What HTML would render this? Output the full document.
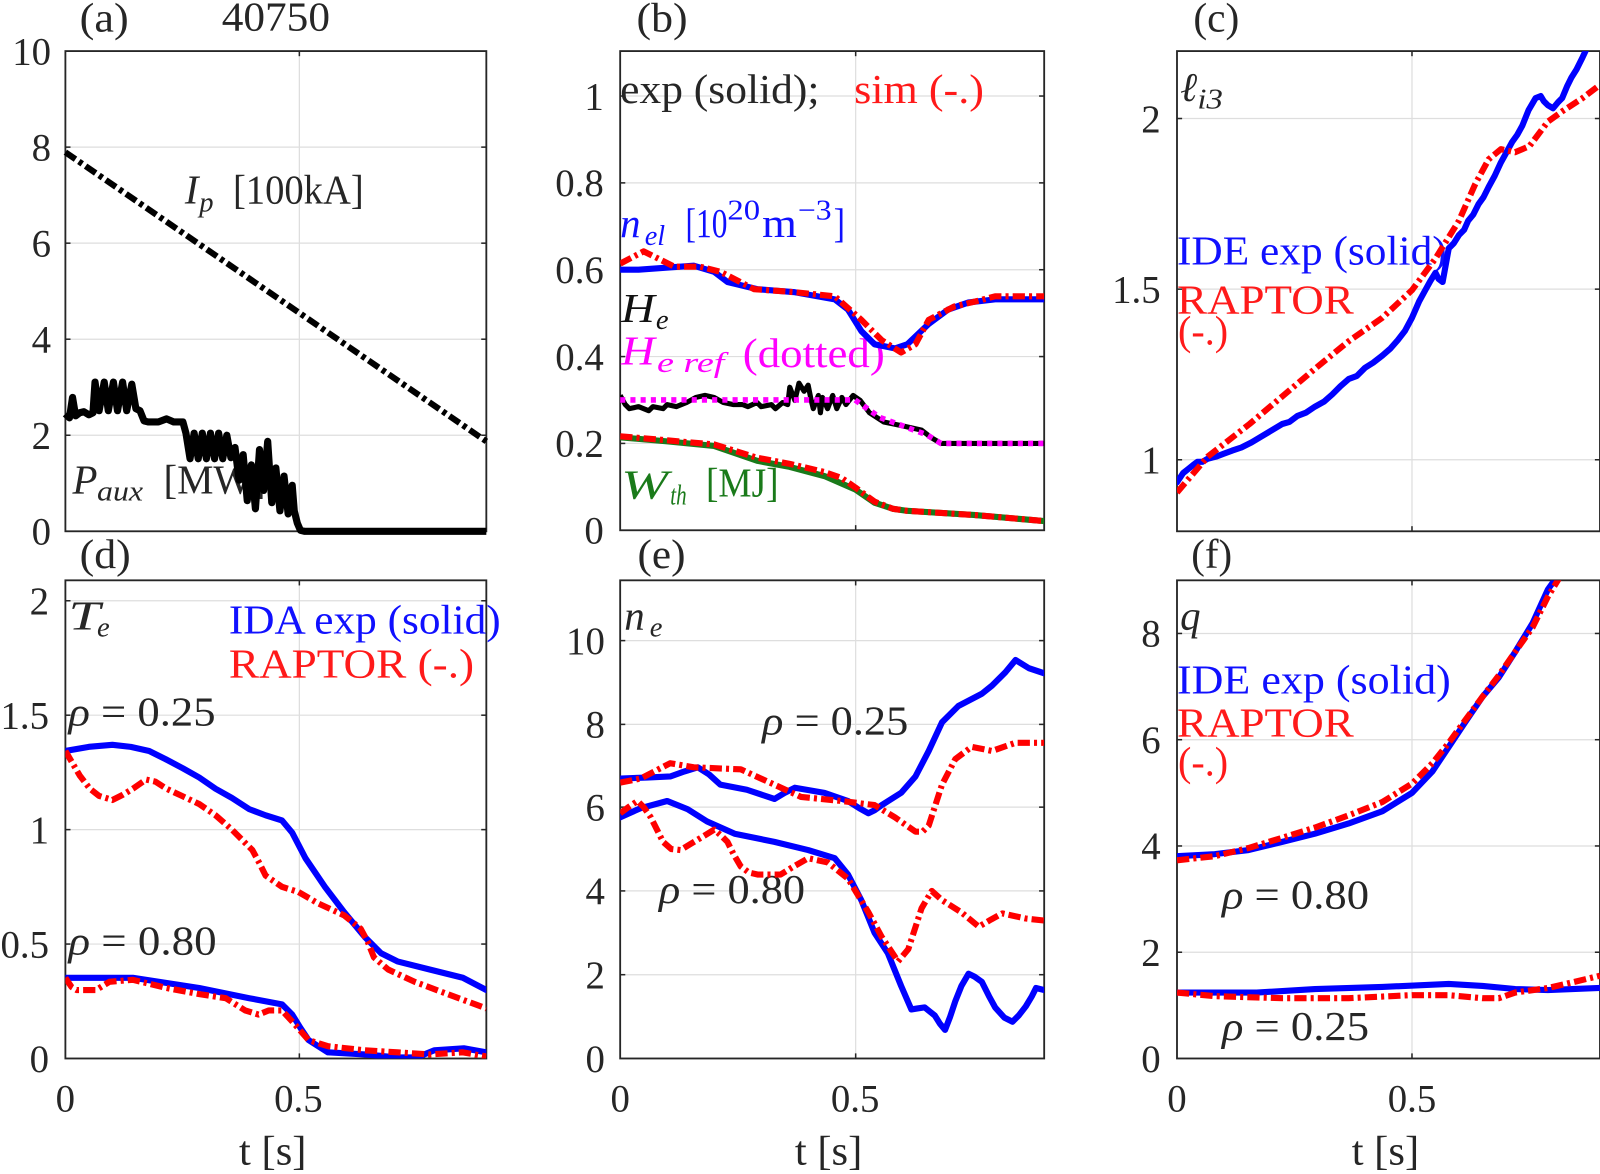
<!DOCTYPE html>
<html><head><meta charset="utf-8"><style>
html,body{margin:0;padding:0;background:#fff;}
svg{display:block;}
text{font-family:"Liberation Serif","DejaVu Serif",serif;fill:#262626;}
.tk{font-size:38px;}
.lb{font-size:40px;}
.sb{font-size:28px;}
.it{font-style:italic;}
.grid{stroke:#dedede;stroke-width:1.2;fill:none;}
.box{stroke:#262626;stroke-width:1.8;fill:none;}
.tick{stroke:#262626;stroke-width:1.5;}
.bl{stroke:#0000ff;stroke-width:6;fill:none;stroke-linejoin:round;stroke-linecap:round;}
.rd{stroke:#ff0000;stroke-width:6;fill:none;stroke-linejoin:round;stroke-dasharray:12 4 3 4;}
</style></head><body>
<svg width="1600" height="1174" viewBox="0 0 1600 1174" xmlns="http://www.w3.org/2000/svg">
<defs>
<clipPath id="cb"><rect x="607" y="50" width="415" height="470"/></clipPath>
<clipPath id="cc"><rect x="1152" y="50" width="414" height="470"/></clipPath>
<clipPath id="cd"><rect x="64" y="568" width="412" height="468"/></clipPath>
<clipPath id="ce"><rect x="607" y="568" width="415" height="468"/></clipPath>
<clipPath id="cf"><rect x="1152" y="568" width="414" height="468"/></clipPath>
</defs>
<g transform="scale(1.0217)">

<!-- ============ PANEL A ============ -->
<g class="grid">
<line x1="64" y1="144" x2="476" y2="144"/><line x1="64" y1="238" x2="476" y2="238"/>
<line x1="64" y1="332" x2="476" y2="332"/><line x1="64" y1="426" x2="476" y2="426"/>
<line x1="293" y1="50" x2="293" y2="520"/>
</g>
<rect class="box" x="64" y="50" width="412" height="470"/>
<g class="tick">
<line x1="64" y1="144" x2="69" y2="144"/><line x1="64" y1="238" x2="69" y2="238"/><line x1="64" y1="332" x2="69" y2="332"/><line x1="64" y1="426" x2="69" y2="426"/>
<line x1="476" y1="144" x2="471" y2="144"/><line x1="476" y1="238" x2="471" y2="238"/><line x1="476" y1="332" x2="471" y2="332"/><line x1="476" y1="426" x2="471" y2="426"/>
<line x1="293" y1="50" x2="293" y2="55"/><line x1="293" y1="520" x2="293" y2="515"/>
</g>
<g class="tk" text-anchor="end">
<text x="50" y="63">10</text><text x="50" y="157">8</text><text x="50" y="251">6</text>
<text x="50" y="345">4</text><text x="50" y="439">2</text><text x="50" y="533">0</text>
</g>
<text class="lb" x="78" y="31" textLength="48" lengthAdjust="spacingAndGlyphs">(a)</text>
<text class="lb" x="217" y="30" textLength="106" lengthAdjust="spacingAndGlyphs">40750</text>
<text class="lb it" x="181" y="199">I</text>
<text class="sb it" x="195" y="207">p</text>
<text class="lb" x="228" y="199" textLength="128" lengthAdjust="spacingAndGlyphs">[100kA]</text>
<text class="lb it" x="71" y="483">P</text>
<text class="sb it" x="95" y="490" textLength="45" lengthAdjust="spacingAndGlyphs">aux</text>
<text class="lb" x="160" y="483" textLength="100" lengthAdjust="spacingAndGlyphs">[MW]</text>
<polyline fill="none" stroke="#000" stroke-width="6" stroke-dasharray="12 4 4 4" points="64,149 476,432"/>
<polyline fill="none" stroke="#000" stroke-width="7" stroke-linejoin="round" points="64,405 68,409 71,389 74,407 78,404 82,403 87,406 91,404 93,374 97,402 102,374 106,402 111,374 115,402 120,374 124,402 129,376 133,400 137,402 141,412 145,413 155,413 163,410 170,413 179,413 182,424 186,449 190,424 194,449 198,424 202,449 206,424 210,449 214,424 218,449 222,426 226,448 230,438 234,470 238,445 242,490 246,455 250,498 254,440 258,480 262,432 266,492 270,458 274,500 278,466 282,503 286,475 288,500 291,512 294,519 298,520 476,520"/>

<!-- ============ PANEL B ============ -->
<g class="grid">
<line x1="607" y1="94" x2="1022" y2="94"/><line x1="607" y1="179" x2="1022" y2="179"/>
<line x1="607" y1="264" x2="1022" y2="264"/><line x1="607" y1="349" x2="1022" y2="349"/>
<line x1="607" y1="434" x2="1022" y2="434"/>
<line x1="837.5" y1="50" x2="837.5" y2="519"/>
</g>
<rect class="box" x="607" y="50" width="415" height="469"/>
<g class="tick">
<line x1="607" y1="94" x2="612" y2="94"/><line x1="607" y1="179" x2="612" y2="179"/><line x1="607" y1="264" x2="612" y2="264"/><line x1="607" y1="349" x2="612" y2="349"/><line x1="607" y1="434" x2="612" y2="434"/>
<line x1="1022" y1="94" x2="1017" y2="94"/><line x1="1022" y1="179" x2="1017" y2="179"/><line x1="1022" y1="264" x2="1017" y2="264"/><line x1="1022" y1="349" x2="1017" y2="349"/><line x1="1022" y1="434" x2="1017" y2="434"/>
<line x1="837.5" y1="50" x2="837.5" y2="55"/><line x1="837.5" y1="519" x2="837.5" y2="514"/>
</g>
<g class="tk" text-anchor="end">
<text x="591" y="107">1</text><text x="591" y="192">0.8</text><text x="591" y="277">0.6</text>
<text x="591" y="362">0.4</text><text x="591" y="447">0.2</text><text x="591" y="532">0</text>
</g>
<text class="lb" x="623" y="31" textLength="50" lengthAdjust="spacingAndGlyphs">(b)</text>
<text class="lb" x="607" y="101" textLength="195" lengthAdjust="spacingAndGlyphs">exp (solid);</text>
<text class="lb" x="836" y="101" textLength="127" lengthAdjust="spacingAndGlyphs" style="fill:#ff1a1a">sim (-.)</text>
<text class="lb it" x="607" y="232" style="fill:#1010ff">n</text>
<text class="sb it" x="631" y="240" textLength="20" lengthAdjust="spacingAndGlyphs" style="fill:#1010ff">el</text>
<text class="lb" x="671" y="232" textLength="41" lengthAdjust="spacingAndGlyphs" style="fill:#1010ff">[10</text>
<text class="sb" x="712" y="215" textLength="32" lengthAdjust="spacingAndGlyphs" style="fill:#1010ff">20</text>
<text class="lb" x="746" y="232" textLength="34" lengthAdjust="spacingAndGlyphs" style="fill:#1010ff">m</text>
<text class="sb" x="781" y="215" textLength="33" lengthAdjust="spacingAndGlyphs" style="fill:#1010ff">−3</text>
<text class="lb" x="816" y="232" textLength="11" lengthAdjust="spacingAndGlyphs" style="fill:#1010ff">]</text>
<text class="lb it" x="608" y="315" textLength="33" lengthAdjust="spacingAndGlyphs" style="fill:#111">H</text>
<text class="sb it" x="642" y="322" style="fill:#111">e</text>
<text class="lb it" x="608" y="357" textLength="33" lengthAdjust="spacingAndGlyphs" style="fill:#ff00ff">H</text>
<text class="sb it" x="643" y="364" textLength="66" lengthAdjust="spacingAndGlyphs" style="fill:#ff00ff">e ref</text>
<text class="lb" x="727" y="359" textLength="139" lengthAdjust="spacingAndGlyphs" style="fill:#ff00ff">(dotted)</text>
<text class="lb it" x="608" y="488" textLength="46" lengthAdjust="spacingAndGlyphs" style="fill:#1a7a1a">W</text>
<text class="sb it" x="656" y="494" textLength="16" lengthAdjust="spacingAndGlyphs" style="fill:#1a7a1a">th</text>
<text class="lb" x="691" y="486" textLength="71" lengthAdjust="spacingAndGlyphs" style="fill:#1a7a1a">[MJ]</text>
<g clip-path="url(#cb)">
<polyline class="bl" points="607,264 625,264 679,260 699,266 712,276 741,283 778,286 817,293 830,303 843,324 856,337 876,341 888,337 909,317 928,303 948,296 974,293 1022,293"/>
<polyline class="rd" points="607,258 630,246 660,261 685,261 705,266 738,283 778,286 817,290 843,313 863,333 882,345 896,337 909,313 934,300 955,295 974,290 1022,290"/>
<polyline fill="none" stroke="#000" stroke-width="5" stroke-linejoin="round" points="607,387 612,396 616,400 625,398 635,402 639,398 649,400 653,396 662,398 672,394 681,389 690,387 699,389 708,394 718,396 727,396 732,398 741,394 745,398 755,396 759,400 766,394 771,396 773,379 778,392 782,375 787,383 791,377 794,392 796,400 801,387 803,404 805,389 810,400 815,387 819,400 824,389 828,396 835,387 842,392 851,404 865,413 884,417 902,421 911,428 921,434 1022,434"/>
<polyline fill="none" stroke="#ff00ff" stroke-width="5.5" stroke-dasharray="5 5" points="607,391.5 837,391.5 861,408.5 884,417 907,425.5 921,434 1022,434"/>
<polyline fill="none" stroke="#1a7a1a" stroke-width="6" stroke-linejoin="round" points="607,428 653,432 699,436.5 741,451 773,457 807,466 837,479 856,492 874,498 888,500 953,504 1022,510"/>
<polyline class="rd" points="607,427 653,431 699,435 741,448 773,454 807,462 824,468 837,477 856,491 874,498 888,500 953,504 1022,510"/>
</g>

<!-- ============ PANEL C ============ -->
<g class="grid">
<line x1="1152" y1="116" x2="1566" y2="116"/><line x1="1152" y1="283" x2="1566" y2="283"/>
<line x1="1152" y1="450" x2="1566" y2="450"/>
<line x1="1382" y1="50" x2="1382" y2="520"/>
</g>
<rect class="box" x="1152" y="50" width="414" height="470"/>
<g class="tick">
<line x1="1152" y1="116" x2="1157" y2="116"/><line x1="1152" y1="283" x2="1157" y2="283"/><line x1="1152" y1="450" x2="1157" y2="450"/>
<line x1="1566" y1="116" x2="1561" y2="116"/><line x1="1566" y1="283" x2="1561" y2="283"/><line x1="1566" y1="450" x2="1561" y2="450"/>
<line x1="1382" y1="50" x2="1382" y2="55"/><line x1="1382" y1="520" x2="1382" y2="515"/>
</g>
<g class="tk" text-anchor="end">
<text x="1136" y="129">2</text><text x="1136" y="296">1.5</text><text x="1136" y="463">1</text>
</g>
<text class="lb" x="1168" y="31" textLength="45" lengthAdjust="spacingAndGlyphs">(c)</text>
<text class="lb it" x="1155" y="99">ℓ</text>
<text class="sb it" x="1172" y="106" textLength="25" lengthAdjust="spacingAndGlyphs">i3</text>
<text class="lb" x="1152" y="259" textLength="264" lengthAdjust="spacingAndGlyphs" style="fill:#1010ff">IDE exp (solid)</text>
<text class="lb" x="1152" y="307" textLength="173" lengthAdjust="spacingAndGlyphs" style="fill:#ff1a1a">RAPTOR</text>
<text class="lb" x="1153" y="337" textLength="49" lengthAdjust="spacingAndGlyphs" style="fill:#ff1a1a">(-.)</text>
<g clip-path="url(#cc)">
<polyline class="bl" points="1152,472 1158,463 1163,459 1168,455 1172,452 1177,452 1182,449 1190,447 1198,444 1206,441 1215,438 1225,433 1235,427 1245,421 1255,415 1262,413 1270,407 1278,404 1287,398 1296,393 1304,386 1312,378 1320,371 1328,368 1336,360 1344,355 1353,348 1361,341 1368,333 1375,324 1382,311 1389,295 1395,284 1400,275 1405,267 1408,273 1412,276 1418,243 1423,238 1428,230 1433,225 1437,216 1442,210 1447,200 1452,193 1457,183 1463,172 1469,159 1474,150 1480,139 1485,132 1490,123 1496,108 1503,96 1508,94 1511,99 1515,103 1520,106 1525,100 1529,96 1534,84 1538,76 1543,68 1549,56 1557,39"/>
<polyline class="rd" points="1152,482 1182,447 1223,415 1255,388 1287,361 1320,334 1353,311 1382,284 1405,253 1428,216 1444,180 1457,156 1469,146 1483,149 1497,143 1515,119 1529,109 1549,96 1566,83"/>
</g>

<!-- ============ PANEL D ============ -->
<g class="grid">
<line x1="64" y1="588" x2="476" y2="588"/><line x1="64" y1="700" x2="476" y2="700"/>
<line x1="64" y1="812" x2="476" y2="812"/><line x1="64" y1="924" x2="476" y2="924"/>
<line x1="293" y1="568" x2="293" y2="1036"/>
</g>
<rect class="box" x="64" y="568" width="412" height="468"/>
<g class="tick">
<line x1="64" y1="588" x2="69" y2="588"/><line x1="64" y1="700" x2="69" y2="700"/><line x1="64" y1="812" x2="69" y2="812"/><line x1="64" y1="924" x2="69" y2="924"/>
<line x1="476" y1="588" x2="471" y2="588"/><line x1="476" y1="700" x2="471" y2="700"/><line x1="476" y1="812" x2="471" y2="812"/><line x1="476" y1="924" x2="471" y2="924"/>
<line x1="293" y1="568" x2="293" y2="573"/><line x1="293" y1="1036" x2="293" y2="1031"/>
</g>
<g class="tk" text-anchor="end">
<text x="48" y="601">2</text><text x="48" y="713">1.5</text><text x="48" y="825">1</text>
<text x="48" y="937">0.5</text><text x="48" y="1049">0</text>
</g>
<g class="tk" text-anchor="middle">
<text x="64" y="1088">0</text><text x="292" y="1088">0.5</text>
</g>
<text class="lb" x="234" y="1140" textLength="66" lengthAdjust="spacingAndGlyphs">t [s]</text>
<text class="lb" x="78" y="556" textLength="50" lengthAdjust="spacingAndGlyphs">(d)</text>
<text class="lb it" x="67" y="616" textLength="31" lengthAdjust="spacingAndGlyphs">T</text>
<text class="sb it" x="95" y="623">e</text>
<text class="lb" x="224" y="620" textLength="266" lengthAdjust="spacingAndGlyphs" style="fill:#1010ff">IDA exp (solid)</text>
<text class="lb" x="224" y="663" textLength="240" lengthAdjust="spacingAndGlyphs" style="fill:#ff1a1a">RAPTOR (-.)</text>
<text class="lb" x="67" y="710" textLength="144" lengthAdjust="spacingAndGlyphs"><tspan font-style="italic">ρ</tspan> = 0.25</text>
<text class="lb" x="67" y="934" textLength="145" lengthAdjust="spacingAndGlyphs"><tspan font-style="italic">ρ</tspan> = 0.80</text>
<g clip-path="url(#cd)">
<polyline class="bl" points="64,735 87,731 110,729 128,731 146,735 162,743 179,752 195,761 211,772 227,781 244,792 260,798 276,803 286,815 299,840 318,868 337,893 357,917 373,933 389,941 421,949 453,957 476,969"/>
<polyline class="rd" points="64,735 78,759 88,772 97,779 110,783 120,778 130,772 143,763 152,765 163,772 178,779 195,787 211,798 227,812 240,825 247,832 254,845 260,857 276,868 292,873 311,884 337,896 353,909 360,922 366,937 380,949 406,961 438,973 476,987"/>
<polyline class="bl" points="64,957 130,957 195,967 244,977 276,983 286,993 294,1006 302,1018 321,1030 357,1032 389,1035 408,1035 425,1028 454,1026 476,1030"/>
<polyline class="rd" points="64,957 70,966 75,969 94,969 107,961 130,959 163,967 195,973 221,977 240,989 253,993 263,989 276,989 288,1002 302,1018 321,1024 357,1028 389,1030 421,1032 453,1030 476,1034"/>
</g>

<!-- ============ PANEL E ============ -->
<g class="grid">
<line x1="607" y1="627" x2="1022" y2="627"/><line x1="607" y1="709" x2="1022" y2="709"/>
<line x1="607" y1="790" x2="1022" y2="790"/><line x1="607" y1="872" x2="1022" y2="872"/>
<line x1="607" y1="954" x2="1022" y2="954"/>
<line x1="837.5" y1="568" x2="837.5" y2="1036"/>
</g>
<rect class="box" x="607" y="568" width="415" height="468"/>
<g class="tick">
<line x1="607" y1="627" x2="612" y2="627"/><line x1="607" y1="709" x2="612" y2="709"/><line x1="607" y1="790" x2="612" y2="790"/><line x1="607" y1="872" x2="612" y2="872"/><line x1="607" y1="954" x2="612" y2="954"/>
<line x1="1022" y1="627" x2="1017" y2="627"/><line x1="1022" y1="709" x2="1017" y2="709"/><line x1="1022" y1="790" x2="1017" y2="790"/><line x1="1022" y1="872" x2="1017" y2="872"/><line x1="1022" y1="954" x2="1017" y2="954"/>
<line x1="837.5" y1="568" x2="837.5" y2="573"/><line x1="837.5" y1="1036" x2="837.5" y2="1031"/>
</g>
<g class="tk" text-anchor="end">
<text x="592" y="640">10</text><text x="592" y="722">8</text><text x="592" y="803">6</text>
<text x="592" y="885">4</text><text x="592" y="967">2</text><text x="592" y="1049">0</text>
</g>
<g class="tk" text-anchor="middle">
<text x="607" y="1088">0</text><text x="837" y="1088">0.5</text>
</g>
<text class="lb" x="778" y="1140" textLength="66" lengthAdjust="spacingAndGlyphs">t [s]</text>
<text class="lb" x="624" y="556" textLength="47" lengthAdjust="spacingAndGlyphs">(e)</text>
<text class="lb it" x="611" y="616">n</text>
<text class="sb it" x="636" y="623">e</text>
<text class="lb" x="746" y="719" textLength="143" lengthAdjust="spacingAndGlyphs"><tspan font-style="italic">ρ</tspan> = 0.25</text>
<text class="lb" x="645" y="884" textLength="143" lengthAdjust="spacingAndGlyphs"><tspan font-style="italic">ρ</tspan> = 0.80</text>
<g clip-path="url(#ce)">
<polyline class="bl" points="607,762 633,761 656,760 670,755 683,751 694,758 705,768 731,773 758,782 768,776 778,771 807,776 830,784 841,791 850,796 856,793 863,788 882,776 896,760 909,735 922,707 938,691 961,679 971,671 984,658 994,646 1007,654 1022,659"/>
<polyline class="rd" points="607,766 627,762 656,747 679,751 725,753 758,768 784,780 824,784 856,788 876,800 896,814 903,814 909,808 922,768 935,743 951,731 971,735 994,727 1022,727"/>
<polyline class="bl" points="607,800 627,791 653,784 673,792 692,804 719,816 758,824 791,832 817,840 830,856 843,881 856,913 869,933 882,965 892,988 898,987 905,986 910,990 915,994 920,1002 925,1008 930,995 935,980 941,965 948,953 954,956 961,961 968,975 974,986 983,996 991,1000 997,994 1004,985 1010,975 1014,967 1022,969"/>
<polyline class="rd" points="607,796 615,790 624,784 630,790 637,800 643,812 649,824 657,831 666,832 676,826 686,820 699,812 706,818 712,824 718,836 725,848 733,854 742,856 764,856 777,848 791,840 810,844 830,860 850,893 863,917 879,941 889,929 902,889 912,872 922,881 941,893 958,907 970,900 981,894 1004,899 1022,901"/>
</g>

<!-- ============ PANEL F ============ -->
<g class="grid">
<line x1="1152" y1="620" x2="1566" y2="620"/><line x1="1152" y1="724" x2="1566" y2="724"/>
<line x1="1152" y1="828" x2="1566" y2="828"/><line x1="1152" y1="932" x2="1566" y2="932"/>
<line x1="1382" y1="568" x2="1382" y2="1036"/>
</g>
<rect class="box" x="1152" y="568" width="414" height="468"/>
<g class="tick">
<line x1="1152" y1="620" x2="1157" y2="620"/><line x1="1152" y1="724" x2="1157" y2="724"/><line x1="1152" y1="828" x2="1157" y2="828"/><line x1="1152" y1="932" x2="1157" y2="932"/>
<line x1="1566" y1="620" x2="1561" y2="620"/><line x1="1566" y1="724" x2="1561" y2="724"/><line x1="1566" y1="828" x2="1561" y2="828"/><line x1="1566" y1="932" x2="1561" y2="932"/>
<line x1="1382" y1="568" x2="1382" y2="573"/><line x1="1382" y1="1036" x2="1382" y2="1031"/>
</g>
<g class="tk" text-anchor="end">
<text x="1136" y="633">8</text><text x="1136" y="737">6</text><text x="1136" y="841">4</text>
<text x="1136" y="945">2</text><text x="1136" y="1049">0</text>
</g>
<g class="tk" text-anchor="middle">
<text x="1152" y="1088">0</text><text x="1382" y="1088">0.5</text>
</g>
<text class="lb" x="1323" y="1140" textLength="66" lengthAdjust="spacingAndGlyphs">t [s]</text>
<text class="lb" x="1166" y="556" textLength="40" lengthAdjust="spacingAndGlyphs">(f)</text>
<text class="lb it" x="1155" y="616">q</text>
<text class="lb" x="1152" y="679" textLength="268" lengthAdjust="spacingAndGlyphs" style="fill:#1010ff">IDE exp (solid)</text>
<text class="lb" x="1152" y="721" textLength="173" lengthAdjust="spacingAndGlyphs" style="fill:#ff1a1a">RAPTOR</text>
<text class="lb" x="1153" y="759" textLength="49" lengthAdjust="spacingAndGlyphs" style="fill:#ff1a1a">(-.)</text>
<text class="lb" x="1196" y="889" textLength="144" lengthAdjust="spacingAndGlyphs"><tspan font-style="italic">ρ</tspan> = 0.80</text>
<text class="lb" x="1196" y="1018" textLength="144" lengthAdjust="spacingAndGlyphs"><tspan font-style="italic">ρ</tspan> = 0.25</text>
<g clip-path="url(#cf)">
<polyline class="bl" points="1152,838 1189,836 1222,832 1255,824 1287,816 1320,806 1353,794 1382,776 1402,755 1418,731 1434,707 1451,682 1467,663 1483,638 1500,610 1515,577 1525,563"/>
<polyline class="rd" points="1152,842 1189,838 1222,830 1255,820 1287,810 1320,798 1353,785 1382,767 1402,747 1418,727 1434,705 1451,682 1467,661 1483,638 1500,614 1515,584 1529,561"/>
<polyline class="bl" points="1152,971.5 1230,971.5 1287,968 1353,966 1418,963 1451,965 1483,968 1515,969 1566,967"/>
<polyline class="rd" points="1152,971.5 1189,975 1255,977 1320,977 1382,974 1418,974 1451,977 1467,977 1483,971.5 1515,967 1541,961 1566,955"/>
</g>
</g>
</svg>
</body></html>
